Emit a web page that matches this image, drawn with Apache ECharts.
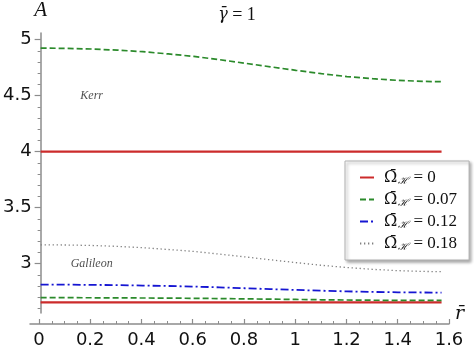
<!DOCTYPE html>
<html>
<head>
<meta charset="utf-8">
<script src="https://cdn.jsdelivr.net/npm/echarts@6/dist/echarts.min.js"></script>
<style>
  html, body { margin: 0; padding: 0; background: #fff; }
  #chart { width: 474px; height: 349px; }
</style>
</head>
<body>
<div id="chart"></div>
<script>
// radial coordinate samples, 0 .. pi/2
const rValues = [0, 0.1, 0.2, 0.3, 0.4, 0.5, 0.6, 0.7, 0.8, 0.9, 1.0, 1.1, 1.2, 1.3, 1.4, 1.5, 1.5708];

// Kerr branch
const kerrOmega0    = [4.0, 4.0, 4.0, 4.0, 4.0, 4.0, 4.0, 4.0, 4.0, 4.0, 4.0, 4.0, 4.0, 4.0, 4.0, 4.0, 4.0];
const kerrOmega007  = [4.925, 4.923, 4.917, 4.907, 4.893, 4.873, 4.851, 4.822, 4.790, 4.758, 4.727, 4.697, 4.671, 4.652, 4.637, 4.628, 4.625];

// Galileon branch
const galOmega0     = [2.655, 2.655, 2.655, 2.655, 2.655, 2.655, 2.655, 2.655, 2.655, 2.655, 2.655, 2.655, 2.655, 2.655, 2.655, 2.655, 2.655];
const galOmega007   = [2.697, 2.697, 2.696, 2.695, 2.694, 2.693, 2.691, 2.689, 2.686, 2.684, 2.681, 2.678, 2.676, 2.674, 2.673, 2.672, 2.672];
const galOmega012   = [2.813, 2.813, 2.811, 2.809, 2.805, 2.801, 2.796, 2.789, 2.781, 2.773, 2.766, 2.759, 2.753, 2.748, 2.745, 2.743, 2.742];
const galOmega018   = [3.169, 3.167, 3.163, 3.155, 3.143, 3.127, 3.110, 3.086, 3.061, 3.035, 3.010, 2.986, 2.966, 2.950, 2.938, 2.931, 2.929];

// legend keys (values of the horizon angular velocity)
const omegaKeys = ['0', '0.07', '0.12', '0.18'];

// tick positions
const xTickLabels = [0, 0.2, 0.4, 0.6, 0.8, 1, 1.2, 1.4, 1.6];
const xMinorTicks = [0, 0.05, 0.1, 0.15, 0.2, 0.25, 0.3, 0.35, 0.4, 0.45, 0.5, 0.55, 0.6, 0.65, 0.7, 0.75, 0.8, 0.85, 0.9, 0.95, 1, 1.05, 1.1, 1.15, 1.2, 1.25, 1.3, 1.35, 1.4, 1.45, 1.5, 1.55, 1.6];
const yTickLabels = [3, 3.5, 4, 4.5, 5];
const yMinorTicks = [2.6, 2.7, 2.8, 2.9, 3, 3.1, 3.2, 3.3, 3.4, 3.5, 3.6, 3.7, 3.8, 3.9, 4, 4.1, 4.2, 4.3, 4.4, 4.5, 4.6, 4.7, 4.8, 4.9, 5];

// region labels
const regionLabels = [[0.2, 4.5, 'Kerr'], [0.2, 3.0, 'Galileon']];

const pairs = (ys) => rValues.map((r, i) => [r, ys[i]]);

const SERIF = '"Liberation Serif", "DejaVu Serif", serif';
const MARKED = '"DejaVu Serif", serif';
const SANS = '"DejaVu Sans", sans-serif';
const axisGray = '#8c8c8c';

const styles = {
  '0':    { color: '#cc2b2b', width: 2.2, type: 'solid' },
  '0.07': { color: '#2b8a2b', width: 1.7, type: [6, 3] },
  '0.12': { color: '#1616d2', width: 1.8, type: [8, 3, 2, 3] },
  '0.18': { color: '#808080', width: 1.3, type: [1.3, 2.7] }
};

function curve(key, ys) {
  const s = styles[key];
  return {
    type: 'line', name: key, xAxisIndex: 0, yAxisIndex: 0,
    data: pairs(ys), showSymbol: false, symbol: 'none', silent: true,
    color: s.color,
    lineStyle: { color: s.color, width: s.width, type: s.type },
    z: 3
  };
}

const chart = echarts.init(document.getElementById('chart'), null, { renderer: 'canvas' });

chart.setOption({
  animation: false,
  backgroundColor: '#fff',
  title: {
    text: '{g|γ̄}{e| = 1}',
    left: 'center',
    top: 1,
    textStyle: {
      rich: {
        g: { fontFamily: MARKED, fontStyle: 'italic', fontWeight: 'normal', fontSize: 16, color: '#111' },
        e: { fontFamily: SERIF, fontWeight: 'normal', fontSize: 18, color: '#111' }
      }
    }
  },
  grid: [
    { left: 39, top: 33, width: 410, height: 280 },
    { left: 30, top: 320, width: 419, height: 5 }
  ],
  xAxis: [
    { gridIndex: 0, type: 'value', min: 0, max: 1.6, show: false },
    {
      gridIndex: 1, type: 'value', min: -0.035, max: 1.6, position: 'bottom',
      name: 'r̄', nameLocation: 'end', nameGap: 6,
      nameTextStyle: { fontFamily: MARKED, fontStyle: 'italic', fontSize: 19, color: '#111', verticalAlign: 'bottom', align: 'left', padding: [0, 0, 0, 0] },
      axisLine: { show: true, onZero: false, lineStyle: { color: axisGray, width: 1.5 } },
      axisTick: { show: true, inside: true, length: 5, customValues: xTickLabels, lineStyle: { color: axisGray, width: 1.2 } },
      axisLabel: { show: true, customValues: xTickLabels, margin: 7, fontFamily: SANS, fontSize: 18, color: '#111' },
      splitLine: { show: false }
    },
    {
      gridIndex: 1, type: 'value', min: -0.035, max: 1.6, position: 'bottom',
      axisLine: { show: false },
      axisTick: { show: true, inside: true, length: 3, customValues: xMinorTicks, lineStyle: { color: axisGray, width: 1 } },
      axisLabel: { show: false },
      splitLine: { show: false }
    }
  ],
  yAxis: [
    {
      gridIndex: 0, type: 'value', min: 2.56, max: 5.06, position: 'left',
      name: 'A', nameLocation: 'end', nameGap: 12,
      nameTextStyle: { fontFamily: SERIF, fontStyle: 'italic', fontSize: 21, color: '#111', align: 'center' },
      axisLine: { show: true, onZero: false, lineStyle: { color: axisGray, width: 1.5 } },
      axisTick: { show: true, length: 6, customValues: yTickLabels, lineStyle: { color: axisGray, width: 1.2 } },
      axisLabel: { show: true, customValues: yTickLabels, margin: 9, fontFamily: SANS, fontSize: 18, color: '#111' },
      splitLine: { show: false }
    },
    {
      gridIndex: 0, type: 'value', min: 2.56, max: 5.06, position: 'left',
      axisLine: { show: false },
      axisTick: { show: true, length: 3, customValues: yMinorTicks, lineStyle: { color: axisGray, width: 1 } },
      axisLabel: { show: false },
      splitLine: { show: false }
    },
    { gridIndex: 1, type: 'value', show: false, min: 0, max: 1 }
  ],
  legend: {
    data: omegaKeys,
    orient: 'vertical',
    left: 345, top: 161,
    padding: [8, 12, 8, 14],
    itemGap: 5,
    itemWidth: 14, itemHeight: 12,
    backgroundColor: '#fff',
    borderColor: '#b0b0b0', borderWidth: 1,
    shadowColor: 'rgba(0,0,0,0.35)', shadowBlur: 3, shadowOffsetX: 2, shadowOffsetY: 2,
    selectedMode: false,
    itemStyle: { opacity: 0 },
    formatter: (k) => '{o|Ω̄}{s|ℋ}{e| = ' + k + '}',
    textStyle: {
      padding: [0, 0, 0, 5],
      rich: {
        o: { fontFamily: MARKED, fontSize: 16, color: '#111' },
        s: { fontFamily: MARKED, fontStyle: 'italic', fontSize: 10, color: '#111', padding: [7, 0, 0, 1] },
        e: { fontFamily: SERIF, fontSize: 17, color: '#111' }
      }
    }
  },
  series: [
    curve('0', kerrOmega0),
    curve('0.07', kerrOmega007),
    curve('0', galOmega0),
    curve('0.07', galOmega007),
    curve('0.12', galOmega012),
    curve('0.18', galOmega018),
    {
      type: 'scatter', name: 'regions', xAxisIndex: 0, yAxisIndex: 0,
      data: regionLabels, symbolSize: 0, silent: true,
      label: {
        show: true, position: 'inside',
        formatter: (p) => p.data[2],
        fontFamily: SERIF, fontStyle: 'italic', fontSize: 12, color: '#222'
      }
    }
  ]
});
</script>
</body>
</html>
